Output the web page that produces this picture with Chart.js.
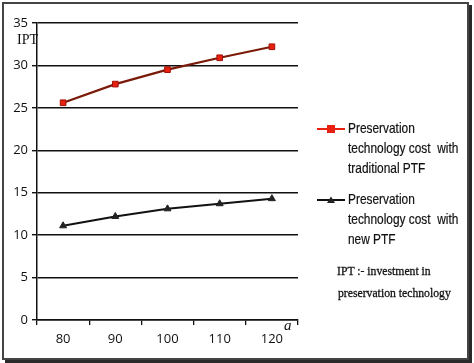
<!DOCTYPE html>
<html><head><meta charset="utf-8">
<script src="https://cdn.jsdelivr.net/npm/chart.js@4"></script>
<style>
html,body{margin:0;padding:0;background:#fff;}
#wrap{position:relative;width:474px;height:363px;overflow:hidden;}
#c{position:absolute;left:0;top:0;}
#frame{position:absolute;left:2px;top:2px;width:463px;height:354px;border:2px solid #444;box-shadow:3px 3px 0 #2a2a2a;pointer-events:none;}
.lg{position:absolute;font-family:"Liberation Sans",sans-serif;font-size:14.5px;line-height:20px;color:#111;white-space:nowrap;transform:scaleX(0.82);transform-origin:0 0;-webkit-text-stroke:0.2px #111;}
.note{position:absolute;font-family:"Liberation Serif","DejaVu Serif",serif;font-size:13px;color:#111;white-space:nowrap;transform:scaleX(0.9);transform-origin:0 0;-webkit-text-stroke:0.3px #111;}
.lbl{position:absolute;font-family:"Liberation Serif",serif;color:#111;}
</style></head>
<body><div id="wrap">
<canvas id="c" width="474" height="363"></canvas>
<div id="frame"></div>
</div>
<script>
const categories = ['80','90','100','110','120'];
const traditionalPTF = [25.6, 27.8, 29.5, 30.9, 32.2];
const newPTF = [11.1, 12.2, 13.1, 13.7, 14.3];
const seriesNames = ['Preservation technology cost  with traditional PTF','Preservation technology cost  with new PTF'];
const yTicks = [0,5,10,15,20,25,30,35];

const wrap = document.getElementById('wrap');
function addDiv(cls, html, css){const d=document.createElement('div');d.className=cls;d.innerHTML=html;Object.assign(d.style,css);wrap.appendChild(d);return d;}

const chart = new Chart(document.getElementById('c'), {
  type:'line',
  data:{labels:categories,datasets:[
    {label:seriesNames[0],data:traditionalPTF,borderColor:'#7a1a08',borderWidth:2.2,pointStyle:'rect',pointRadius:4,pointBackgroundColor:'#e8200f',pointBorderColor:'#a01008',pointBorderWidth:1,tension:0},
    {label:seriesNames[1],data:newPTF,borderColor:'#111',borderWidth:2,pointStyle:'triangle',pointRadius:4,pointBackgroundColor:'#222',pointBorderColor:'#222',pointBorderWidth:1,tension:0}
  ]},
  options:{
    responsive:false,animation:false,devicePixelRatio:1,
    layout:{padding:{top:23,right:176,bottom:0,left:0}},
    plugins:{legend:{display:false},tooltip:{enabled:false}},
    scales:{
      x:{offset:true,
        grid:{display:true,offset:true,drawOnChartArea:false,drawTicks:true,tickLength:5,color:'#111',lineWidth:1.3},
        border:{display:true,color:'#111',width:1.5},
        ticks:{color:'#111',font:{family:'"Open Sans"',size:13},padding:6},
        afterFit:s=>{s.height=43;}
      },
      y:{min:0,max:35,
        afterBuildTicks:s=>{s.ticks=yTicks.map(v=>({value:v}));},
        grid:{color:'#111',lineWidth:1.4,drawTicks:true,tickLength:5},
        border:{display:true,color:'#111',width:1.5},
        ticks:{color:'#111',font:{family:'"Open Sans"',size:13},padding:4},
        afterFit:s=>{s.width=37;}
      }
    }
  }
});

const ds = chart.data.datasets;
function legendItem(i, top, lines){
  const sw = document.createElement('canvas');
  sw.width=30;sw.height=10;
  Object.assign(sw.style,{position:'absolute',left:'316px',top:(top+5)+'px'});
  const g=sw.getContext('2d');
  g.strokeStyle=i===0?'#e8200f':ds[i].borderColor;g.lineWidth=2;
  g.beginPath();g.moveTo(1,5);g.lineTo(29,5);g.stroke();
  g.fillStyle=ds[i].pointBackgroundColor;
  if(i===0){g.fillRect(11,1,8,8);}
  else{g.beginPath();g.moveTo(15,1.5);g.lineTo(19,8);g.lineTo(11,8);g.closePath();g.fill();}
  wrap.appendChild(sw);
  addDiv('lg',lines.join('<br>'),{left:'348px',top:(top-1)+'px'});
}
legendItem(0,119,['Preservation','technology cost&nbsp; with','traditional PTF']);
legendItem(1,190,['Preservation','technology cost&nbsp; with','new PTF']);
addDiv('note','IPT :- investment in',{left:'337px',top:'263px'});
addDiv('note','preservation technology',{left:'338px',top:'285px'});
addDiv('lbl','IPT',{left:'17px',top:'32px',fontSize:'14px'});
addDiv('lbl','<i>a</i>',{left:'284px',top:'317px',fontSize:'15px'});
</script>
</body></html>
